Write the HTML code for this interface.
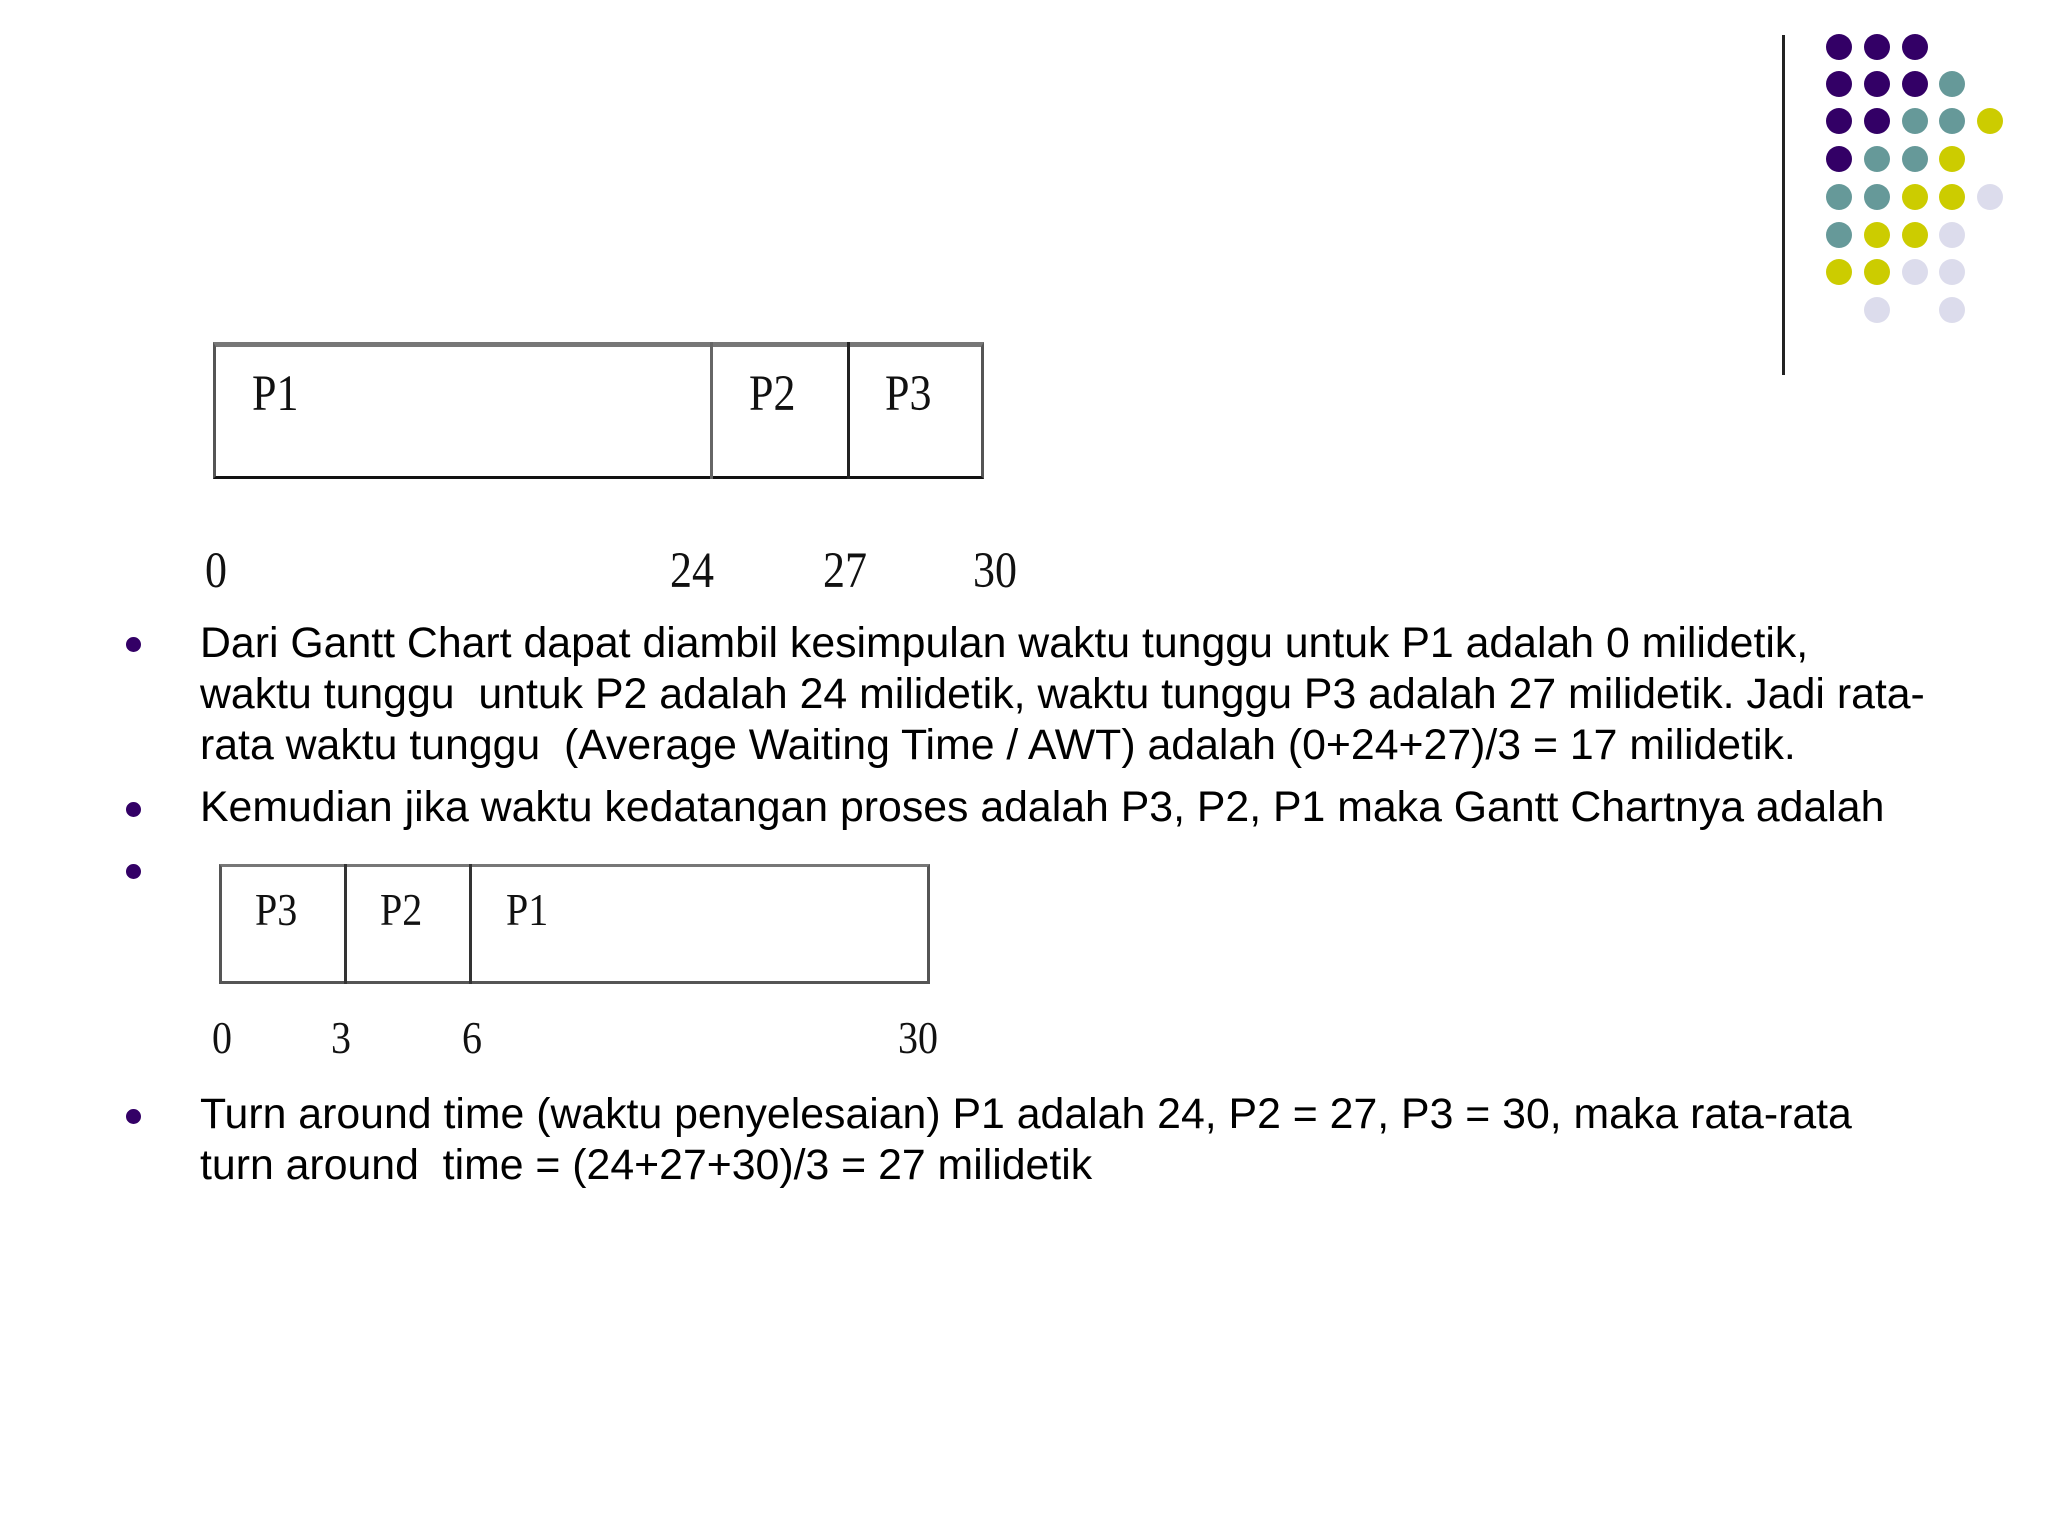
<!DOCTYPE html>
<html><head><meta charset="utf-8"><style>
html,body{margin:0;padding:0;background:#fff;}
body{width:2048px;height:1536px;position:relative;overflow:hidden;font-family:"Liberation Sans",sans-serif;}
.d{position:absolute;width:26px;height:26px;border-radius:50%;}
.p{background:#330066}.t{background:#669999}.y{background:#cccc00}.l{background:#dcdcec}
.ln{position:absolute;left:200px;font-size:42.8px;line-height:51px;white-space:nowrap;color:#000;}
.b{position:absolute;left:126px;width:15px;height:15px;border-radius:50%;background:#330066;}
.s{position:absolute;font-family:"Liberation Serif",serif;font-size:44px;line-height:44px;color:#111;transform:scaleY(1.15);transform-origin:0 50%;}
.bx{position:absolute;box-sizing:border-box;}
</style></head><body>
<div style="position:absolute;left:1782px;top:35px;width:3px;height:340px;background:#222"></div>
<div class="d p" style="left:1826px;top:34px"></div><div class="d p" style="left:1864px;top:34px"></div><div class="d p" style="left:1902px;top:34px"></div>
<div class="d p" style="left:1826px;top:71px"></div><div class="d p" style="left:1864px;top:71px"></div><div class="d p" style="left:1902px;top:71px"></div><div class="d t" style="left:1939px;top:71px"></div>
<div class="d p" style="left:1826px;top:108px"></div><div class="d p" style="left:1864px;top:108px"></div><div class="d t" style="left:1902px;top:108px"></div><div class="d t" style="left:1939px;top:108px"></div><div class="d y" style="left:1977px;top:108px"></div>
<div class="d p" style="left:1826px;top:146px"></div><div class="d t" style="left:1864px;top:146px"></div><div class="d t" style="left:1902px;top:146px"></div><div class="d y" style="left:1939px;top:146px"></div>
<div class="d t" style="left:1826px;top:184px"></div><div class="d t" style="left:1864px;top:184px"></div><div class="d y" style="left:1902px;top:184px"></div><div class="d y" style="left:1939px;top:184px"></div><div class="d l" style="left:1977px;top:184px"></div>
<div class="d t" style="left:1826px;top:222px"></div><div class="d y" style="left:1864px;top:222px"></div><div class="d y" style="left:1902px;top:222px"></div><div class="d l" style="left:1939px;top:222px"></div>
<div class="d y" style="left:1826px;top:259px"></div><div class="d y" style="left:1864px;top:259px"></div><div class="d l" style="left:1902px;top:259px"></div><div class="d l" style="left:1939px;top:259px"></div>
<div class="d l" style="left:1864px;top:297px"></div><div class="d l" style="left:1939px;top:297px"></div>
<div class="bx" style="left:213px;top:342px;width:771px;height:137px;border:3px solid #555;border-bottom-color:#111;border-top-width:5px;border-top-color:#777"></div>
<div class="bx" style="left:710px;top:342px;width:3px;height:137px;background:#666"></div>
<div class="bx" style="left:847px;top:342px;width:3px;height:137px;background:#222"></div>
<div class="s" style="left:252px;top:372px">P1</div>
<div class="s" style="left:749px;top:372px">P2</div>
<div class="s" style="left:885px;top:372px">P3</div>
<div class="s" style="left:205px;top:549px">0</div>
<div class="s" style="left:670px;top:549px">24</div>
<div class="s" style="left:823px;top:549px">27</div>
<div class="s" style="left:973px;top:549px">30</div>
<div class="b" style="top:637px"></div>
<div class="ln" style="top:618px">Dari Gantt Chart dapat diambil kesimpulan waktu tunggu untuk P1 adalah 0 milidetik,</div>
<div class="ln" style="top:669px">waktu tunggu&nbsp; untuk P2 adalah 24 milidetik, waktu tunggu P3 adalah 27 milidetik. Jadi rata-</div>
<div class="ln" style="top:720px">rata waktu tunggu&nbsp; (Average Waiting Time / AWT) adalah (0+24+27)/3 = 17 milidetik.</div>
<div class="b" style="top:802px"></div>
<div class="ln" style="top:782px">Kemudian jika waktu kedatangan proses adalah P3, P2, P1 maka Gantt Chartnya adalah</div>
<div class="b" style="top:864px"></div>
<div class="bx" style="left:219px;top:864px;width:711px;height:120px;border:3px solid #555;border-top-color:#777"></div>
<div class="bx" style="left:344px;top:864px;width:3px;height:120px;background:#333"></div>
<div class="bx" style="left:469px;top:864px;width:3px;height:120px;background:#333"></div>
<div class="s" style="left:255px;top:888px;font-size:40px">P3</div>
<div class="s" style="left:380px;top:888px;font-size:40px">P2</div>
<div class="s" style="left:506px;top:888px;font-size:40px">P1</div>
<div class="s" style="left:212px;top:1016px;font-size:40px">0</div>
<div class="s" style="left:331px;top:1016px;font-size:40px">3</div>
<div class="s" style="left:462px;top:1016px;font-size:40px">6</div>
<div class="s" style="left:898px;top:1016px;font-size:40px">30</div>
<div class="b" style="top:1109px"></div>
<div class="ln" style="top:1089px">Turn around time (waktu penyelesaian) P1 adalah 24, P2 = 27, P3 = 30, maka rata-rata</div>
<div class="ln" style="top:1140px">turn around&nbsp; time = (24+27+30)/3 = 27 milidetik</div>
</body></html>
